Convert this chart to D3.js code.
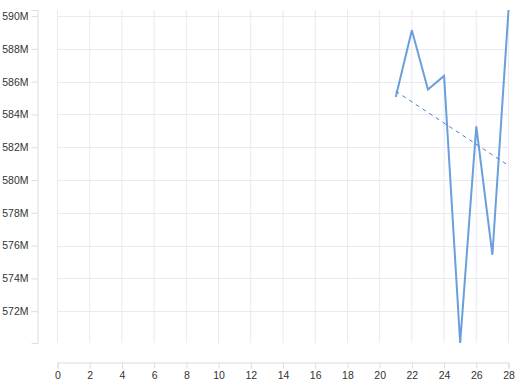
<!DOCTYPE html>
<html><head><meta charset="utf-8">
<script src="https://cdn.jsdelivr.net/npm/d3@7"></script>
<style>
html,body{margin:0;padding:0;background:#fff;}
svg{display:block;font-family:"Liberation Sans",Arial,sans-serif;}
</style></head>
<body><svg id="c" width="518" height="386"></svg>
<script>
const xValues = [21, 22, 23, 24, 25, 26, 27, 28];
const yValues = [585060000, 589140000, 585520000, 586350000, 570060000, 583270000, 575440000, 590370000];
const xTicks = [0,2,4,6,8,10,12,14,16,18,20,22,24,26,28];
const yTicks = [572e6,574e6,576e6,578e6,580e6,582e6,584e6,586e6,588e6,590e6];

const svg = d3.select("#c");
const gridColor = "#e9e9ef";
const x = d3.scaleLinear().domain([0, 28]).range([57.5, 508.5]);
const y = d3.scaleLinear().domain(d3.extent(yValues)).range([343, 10]);
const fmt = v => Math.round(v / 1e6) + "M";

// grid
const grid = svg.append("g");
grid.selectAll("line.v").data(xTicks).join("line")
  .attr("x1", d => x(d)).attr("x2", d => x(d))
  .attr("y1", y.range()[1]).attr("y2", y.range()[0])
  .attr("stroke", gridColor).attr("stroke-width", 1);
grid.selectAll("line.h").data(yTicks).join("line")
  .attr("x1", x.range()[0]).attr("x2", x.range()[1])
  .attr("y1", d => Math.round(y(d)) + 0.5).attr("y2", d => Math.round(y(d)) + 0.5)
  .attr("stroke", gridColor).attr("stroke-width", 1);

// y axis
const ya = svg.append("g").attr("transform", "translate(37.5,0)")
  .call(d3.axisLeft(y).tickValues(yTicks).tickFormat(fmt).tickSize(6).tickPadding(3));
ya.selectAll("path,line").attr("stroke", "#dcdce4");
ya.selectAll("text").attr("fill", "#333").style("font-size", "10.5px").style("font-family", "Liberation Sans, Arial, sans-serif");

// x axis
const xa = svg.append("g").attr("transform", "translate(0,362.5)")
  .call(d3.axisBottom(x).tickValues(xTicks).tickSize(6).tickPadding(3));
xa.selectAll("path,line").attr("stroke", "#dcdce4");
xa.selectAll("text").attr("fill", "#333").style("font-size", "10.5px").style("font-family", "Liberation Sans, Arial, sans-serif");

// data line
const pts = xValues.map((d, i) => [d, yValues[i]]);
svg.append("path").datum(pts)
  .attr("fill", "none").attr("stroke", "#6a9fdc").attr("stroke-width", 2)
  .attr("stroke-linejoin", "miter")
  .attr("d", d3.line().x(d => x(d[0])).y(d => y(d[1])));

// linear trend (least squares on data)
const mx = d3.mean(xValues), my = d3.mean(yValues);
const slope = d3.sum(pts, p => (p[0]-mx)*(p[1]-my)) / d3.sum(xValues, v => (v-mx)*(v-mx));
const trend = [xValues[0], xValues[xValues.length-1]].map(v => [v, my + slope*(v-mx)]);
svg.append("path").datum(trend)
  .attr("fill", "none").attr("stroke", "#4a80d0").attr("stroke-width", 1)
  .attr("stroke-dasharray", "4,4")
  .attr("d", d3.line().x(d => x(d[0])).y(d => y(d[1])));
</script></body></html>
